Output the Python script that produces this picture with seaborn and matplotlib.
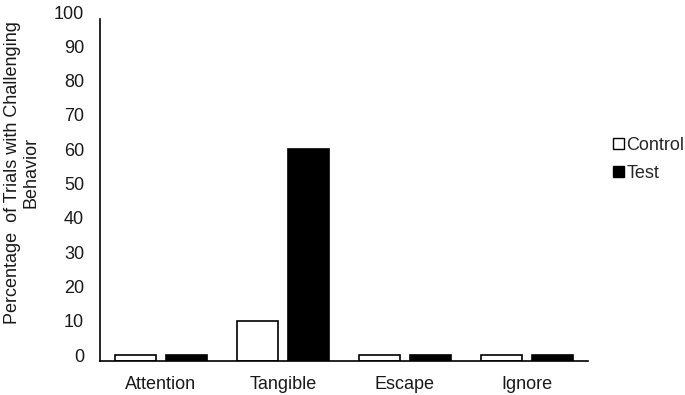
import matplotlib
matplotlib.use("Agg")
import matplotlib.pyplot as plt
import seaborn as sns
import pandas as pd
from matplotlib.patches import Patch

categories = ["Attention", "Tangible", "Escape", "Ignore"]
control = [0, 10, 0, 0]
test = [0, 60, 0, 0]
series = ["Control", "Test"]
yticks = [0, 10, 20, 30, 40, 50, 60, 70, 80, 90, 100]

df = pd.DataFrame({
    "Condition": categories * 2,
    "Value": control + test,
    "Group": ["Control"] * 4 + ["Test"] * 4,
})

sns.set_style("white")
plt.rcParams["font.family"] = ["Liberation Sans", "DejaVu Sans"]

fig = plt.figure(figsize=(6.85, 3.95), dpi=100)
ax = fig.add_axes([0.146, 0.086, 0.712, 0.8835])

ymin = -1.75
sns.barplot(data=df, x="Condition", y="Value", hue="Group",
            palette={"Control": "white", "Test": "black"},
            width=0.83, gap=0.19, edgecolor="black", linewidth=1.2,
            legend=False, ax=ax)

# excel-style baseline sits a bit under the 0 label
for p in ax.patches:
    h = p.get_height()
    p.set_y(ymin)
    p.set_height(h - ymin)

ax.set_ylim(ymin, 100)
ax.set_xlim(-0.5, 3.5)
ax.set_yticks(yticks)
ax.tick_params(axis="both", length=0, labelsize=13, colors="#1a1a1a")
ax.tick_params(axis="x", pad=11)
ax.tick_params(axis="y", pad=11.5)
ax.set_xlabel("")
ax.set_ylabel("Percentage  of Trials with Challenging\nBehavior", fontsize=13,
              color="#1a1a1a", linespacing=1.1)
ax.yaxis.set_label_coords(-0.125, 0.54)

for s in ["top", "right"]:
    ax.spines[s].set_visible(False)
for s in ["left", "bottom"]:
    ax.spines[s].set_color("black")
    ax.spines[s].set_linewidth(1.2)
ax.spines["left"].set_bounds(ymin, 98)

handles = [Patch(facecolor="white", edgecolor="black", linewidth=1.0, label="Control"),
           Patch(facecolor="black", edgecolor="black", linewidth=1.0, label="Test")]
fig.legend(handles=handles, loc="center left", bbox_to_anchor=(0.884, 0.597),
           frameon=False, fontsize=13, handlelength=0.6, handleheight=0.6,
           handletextpad=0.15, labelspacing=0.6, borderaxespad=0)

fig.savefig("out.png", dpi=100)
